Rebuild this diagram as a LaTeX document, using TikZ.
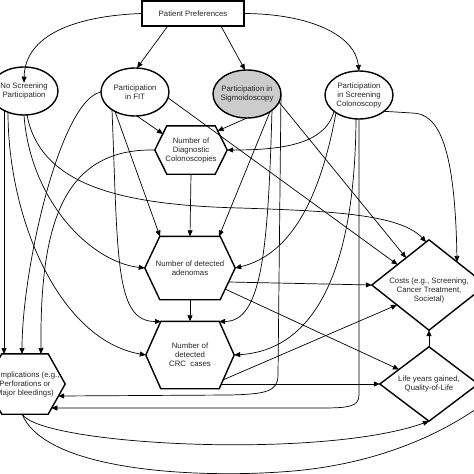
\documentclass[tikz,border=0pt]{standalone}
\usepackage{fontspec}
\setmainfont{Liberation Sans}
\usetikzlibrary{arrows.meta,calc}
\newcommand\hexshape[2]{\draw[shapeline] (#1.west) -- ($(#1.north west)+(#2,0)$) -- ($(#1.north east)+(-#2,0)$) -- (#1.east) -- ($(#1.south east)+(-#2,0)$) -- ($(#1.south west)+(#2,0)$) -- cycle;}
\newcommand\diashape[1]{\draw[shapeline] (#1.north) -- (#1.east) -- (#1.south) -- (#1.west) -- cycle;}
\begin{document}
\begin{tikzpicture}[x=1pt,y=-1pt,
  lbl/.style={font=\fontsize{7.8}{9}\selectfont, text=black!85, align=center, inner sep=0pt},
  shapeline/.style={line width=1.4pt, line join=miter},
  conn/.style={line width=0.7pt, -{Triangle[length=6pt,width=5pt]}},
  ]
\useasboundingbox (0,0) rectangle (474,474);
\clip (0,0) rectangle (474,474);

% ---------- nodes ----------
\node[lbl, draw, line width=1.4pt, minimum width=102pt, minimum height=25pt] (pp) at (193,13.5) {Patient Preferences};

\draw[shapeline] (24,91) ellipse [x radius=34pt, y radius=24pt];
\node[lbl] (ns) at (24,91) {No Screening\\Participation};
\draw[shapeline] (135,92) ellipse [x radius=34pt, y radius=24pt];
\node[lbl] (fit) at (135,92) {Participation\\in FIT};
\draw[shapeline, fill=black!20] (247,94) ellipse [x radius=34pt, y radius=24pt];
\node[lbl] (sig) at (247,94) {Participation in\\Sigmoidoscopy};
\draw[shapeline] (359,95) ellipse [x radius=34pt, y radius=24pt];
\node[lbl] (col) at (359,95) {Participation\\in Screening\\Colonoscopy};

\node[lbl, minimum width=72pt, minimum height=48pt] (dc) at (191,150) {Number of\\Diagnostic\\Colonoscopies};
\hexshape{dc}{12}
\node[lbl, minimum width=90pt, minimum height=63pt] (ad) at (190,268) {Number of detected\\adenomas};
\hexshape{ad}{15}
\node[lbl, minimum width=88pt, minimum height=67pt] (crc) at (190,355) {Number of\\detected\\CRC\ \ cases};
\hexshape{crc}{15}
\node[lbl, minimum width=80pt, minimum height=60pt] (comp) at (25,384) {Complications (e.g.,\\Perforations or\\Major bleedings)};
\hexshape{comp}{17}

\node[minimum width=114pt, minimum height=90pt, inner sep=0pt] (costs) at (429,285) {};
\diashape{costs}
\node[lbl] (costslbl) at (429,290) {Costs (e.g., Screening,\\Cancer Treatment,\\Societal)};
\node[lbl, minimum width=98pt, minimum height=74pt] (ly) at (429,384) {Life years gained,\\Quality-of-Life};
\diashape{ly}

\coordinate (offr) at (495,395);

% ---------- connectors ----------
% Patient preferences
\draw[conn] (pp.west) .. controls (75,16) and (25,35) .. (ns.north);
\draw[conn] ($(pp.south west)+(26,0)$) -- ($(fit)+(2,-24)$);
\draw[conn] ($(pp.south west)+(80,0)$) -- ($(sig)+(-2,-24)$);
\draw[conn] (pp.east) .. controls (310,14) and (355,35) .. ($(col)+(0,-24)$);

% No screening
\draw[conn] ($(ns)+(-20,19.4)$) -- ($(comp)+(-21,-30)$);
\draw[conn] ($(ns)+(-16,21.2)$) .. controls (8,220) and (60,340) .. (crc.west);
\draw[conn] ($(ns)+(0,24)$) .. controls (30,200) and (90,262) .. (ad.west);
\draw[conn] ($(ns)+(3,23.8)$) .. controls (40,185) and (120,205) .. (240,208)
   .. controls (330,211) and (400,214) .. ($(costs.west)!0.95!(costs.north)$);

% FIT
\draw[conn] ($(fit)+(2,24)$) -- ($(dc)+(-28,-16)$);
\draw[conn] ($(fit)+(-20,19.4)$) -- ($(ad)+(-30,-31.5)$);
\draw[conn] ($(fit)+(-23,17.7)$) .. controls (118,260) and (115,321.5) .. ($(crc)+(-29,-33.5)$);
\draw[conn] ($(fit)+(-34,0)$) .. controls (60,100) and (22,270) .. ($(comp)+(-3,-30)$);
\draw[conn] ($(fit)+(33,5.8)$) -- ($(costs.west)!0.45!(costs.north)$);

% Sigmoidoscopy
\draw[conn] ($(sig)+(0,24)$) -- ($(dc)+(26.5,-19)$);
\draw[conn] ($(sig)+(23,17.7)$) -- ($(ad)+(29,-31.5)$);
\draw[conn] ($(sig)+(25,16.3)$) .. controls (268,250) and (262,321.5) .. ($(crc)+(29,-33.5)$);
\draw[conn] ($(sig)+(34,0)$) -- (278,375) .. controls (278,392) and (265,394) .. (230,395) -- ($(comp)+(33.2,12)$);
\draw[conn] ($(sig)+(32,8.1)$) -- ($(costs.west)!0.6!(costs.north)$);

% Screening colonoscopy
\draw[conn] ($(col)+(-25,16.3)$) .. controls (325,145) and (280,150) .. (dc.east);
\draw[conn] ($(col)+(-23,17.7)$) .. controls (320,200) and (290,255) .. (ad.east);
\draw[conn] ($(col)+(-3,24)$) .. controls (355,270) and (315,350) .. (crc.east);
\draw[conn] ($(col)+(0,24)$) -- (359,395) .. controls (359,407) and (348,408) .. (320,408) -- ($(comp)+(26.4,24)$);
\draw[conn] ($(col)+(25,16.3)$) -- (412,113) .. controls (440,113) and (455,150) .. ($(costs.north)!0.49!(costs.east)$);

% Diagnostic colonoscopies
\draw[conn] (dc.south) -- (ad.north);
\draw[conn] (dc.west) .. controls (60,148) and (40,230) .. ($(comp)+(16,-30)$);

% Adenomas
\draw[conn] (ad.south) -- (crc.north);
\draw[conn] ($(ad)+(38.3,14)$) -- (costs.west);
\draw[conn] ($(ad)+(35,21)$) -- ($(ly.west)!0.39!(ly.north)$);

% CRC cases
\draw[conn] ($(crc)+(32.8,25)$) -- ($(costs.west)!0.44!(costs.south)$);
\draw[conn] ($(crc)+(31,29)$) -- (ly.west);

% Life years -> costs
\draw[conn] (ly.north) -- (costs.south);

% Complications
\draw[conn] ($(comp)+(-3,30)$) .. controls (40,445) and (320,460) .. (ly.south);
\draw[conn] ($(comp)+(-3,30)$) .. controls (45,470) and (190,478) .. (280,472)
   .. controls (380,466) and (450,430) .. (offr);
\end{tikzpicture}
\end{document}
